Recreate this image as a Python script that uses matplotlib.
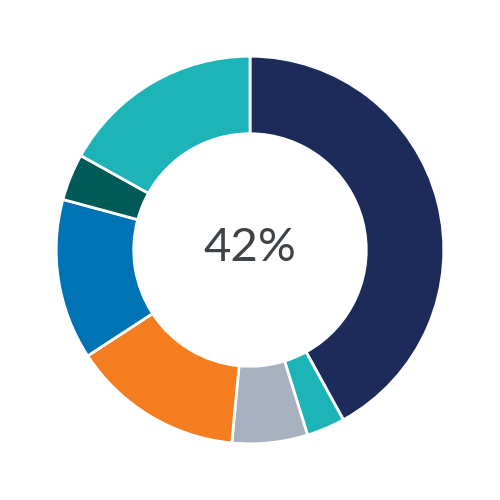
import matplotlib
matplotlib.use("Agg")
import matplotlib.pyplot as plt

# slice shares, clockwise from 12 o'clock
segments = ["Navy", "Teal small", "Gray", "Orange", "Blue", "Dark green", "Teal"]
shares = [42, 3.2, 6.3, 14.3, 13.4, 3.9, 16.9]
colors = ["#1c2b5a", "#1db4b8", "#a7b1c0", "#f47d20", "#0073b5", "#005a56", "#1db4b8"]
center_label = "42%"

fig = plt.figure(figsize=(5, 5), dpi=100)
ax = fig.add_axes([0, 0, 1, 1])

ax.pie(shares, colors=colors, startangle=90, counterclock=False,
       radius=1.0, center=(0, 0),
       wedgeprops=dict(width=0.4, edgecolor="white", linewidth=2))

ax.text(0, 0.01, center_label, ha="center", va="center", fontsize=34,
        family=["Lato", "DejaVu Sans"], fontweight="normal", color="#3d4347")

ax.set_xlim(-1.29, 1.29)
ax.set_ylim(-1.29, 1.29)
ax.set_aspect("equal")
ax.axis("off")

fig.savefig("out.png", dpi=100, facecolor="white")
